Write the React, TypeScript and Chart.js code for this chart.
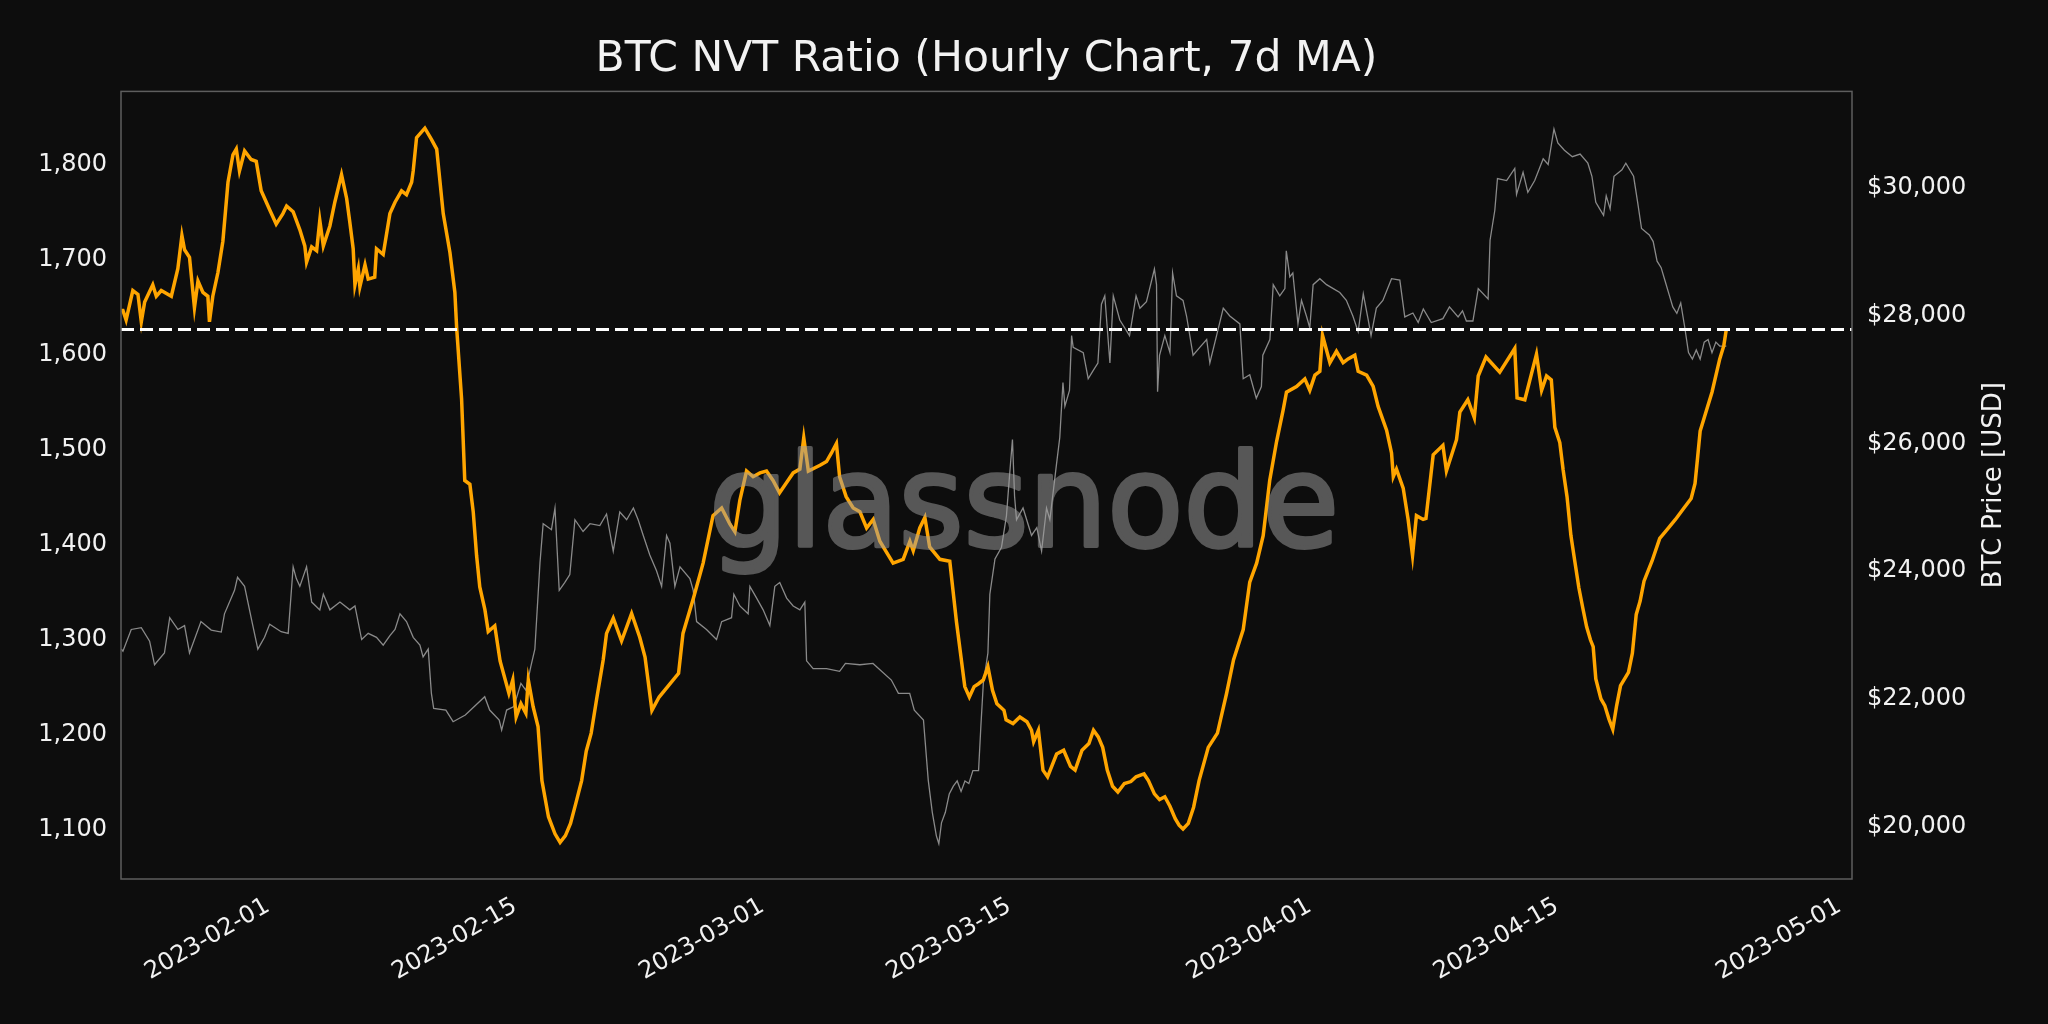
import React, { useEffect, useRef } from 'react';
import { Chart, registerables } from 'chart.js';

Chart.register(...registerables);

const TITLE = 'BTC NVT Ratio (Hourly Chart, 7d MA)';
const RIGHT_AXIS_TITLE = 'BTC Price [USD]';
const WATERMARK = 'glassnode';

// x values are days counted from 2023-02-01 00:00
const X_MIN = -8.66;
const X_MAX = 89.38;
const NVT_MIN = 1048.4;
const NVT_MAX = 1877.7;
const PRICE_MIN = 19181;
const PRICE_MAX = 31513;
const NVT_REFERENCE = 1627;

const xTickDays = [0, 14, 28, 42, 59, 73, 89];
const xTickLabels = ['2023-02-01', '2023-02-15', '2023-03-01', '2023-03-15', '2023-04-01', '2023-04-15', '2023-05-01'];
const nvtTicks = [1100, 1200, 1300, 1400, 1500, 1600, 1700, 1800];
const priceTicks = [20000, 22000, 24000, 26000, 28000, 30000];

const nvtDays = [
  -8.64, -8.55, -8.37, -7.99, -7.70, -7.51, -7.32, -6.86, -6.66, -6.38,
  -5.81, -5.44, -5.21, -5.06, -4.78, -4.50, -4.30, -4.02, -3.74, -3.65,
  -3.46, -3.17, -2.89, -2.60, -2.32, -2.13, -1.95, -1.66, -1.29, -1.00,
  -0.72, -0.24, 0.13, 0.51, 0.72, 1.09, 1.47, 1.75, 1.85, 2.14,
  2.42, 2.60, 2.80, 3.17, 3.45, 3.83, 4.12, 4.30, 4.49, 4.59,
  4.78, 4.87, 5.16, 5.34, 5.71, 5.81, 6.19, 6.57, 6.86, 7.23,
  7.51, 7.80, 7.89, 8.08, 8.55, 8.93, 9.22, 9.59, 9.97, 10.25,
  10.35, 10.63, 10.81, 11.10, 11.29, 11.48, 11.66, 11.95, 12.14, 12.51,
  12.81, 13.31, 13.53, 13.72, 13.99, 14.27, 14.41, 14.68, 14.96, 15.18,
  15.55, 15.92, 16.21, 16.51, 16.80, 17.10, 17.43, 17.69, 17.97, 18.28,
  18.65, 18.84, 19.22, 19.69, 20.26, 20.72, 21.02, 21.41, 21.82, 22.35,
  22.92, 23.17, 23.76, 24.31, 24.87, 25.36, 25.83, 26.11, 26.39, 26.77,
  27.14, 27.53, 27.90, 28.27, 28.64, 29.01, 29.41, 29.79, 30.01, 30.27,
  30.93, 31.30, 31.58, 31.86, 32.04, 32.41, 32.81, 33.19, 33.57, 33.94,
  34.32, 35.07, 35.64, 36.02, 36.21, 36.58, 36.87, 37.14, 37.72, 38.28,
  38.66, 39.13, 39.39, 39.66, 39.91, 40.18, 40.44, 40.70, 40.95, 41.35,
  41.47, 41.86, 42.25, 42.65, 42.91, 43.03, 43.30, 43.56, 43.82, 44.33,
  44.73, 45.12, 45.38, 45.77, 46.16, 46.42, 46.69, 46.94, 47.20, 47.50,
  47.80, 48.17, 48.54, 48.83, 49.28, 49.53, 49.87, 50.16, 50.46, 50.75,
  51.05, 51.27, 51.49, 51.79, 52.09, 52.40, 52.92, 53.44, 53.70, 53.96,
  54.35, 54.90, 55.27, 55.66, 56.03, 56.40, 56.79, 57.16, 57.35, 57.92,
  58.39, 58.67, 58.96, 59.24, 59.39, 59.81, 60.18, 60.56, 60.84, 61.22,
  61.41, 61.89, 62.26, 62.54, 63.02, 63.30, 63.40, 63.58, 63.96, 64.24,
  64.49, 64.71, 65.09, 65.25, 65.66, 66.21, 66.41, 66.98, 67.17, 67.62,
  67.99, 68.21, 68.65, 69.43, 70.28, 70.41, 70.85, 71.51, 71.80, 72.08,
  72.35, 72.55, 72.83, 73.02, 73.24, 73.46, 73.68, 73.91, 74.13, 74.35,
  74.57, 74.72, 74.87, 75.16, 75.38, 75.61, 75.83, 76.05, 76.27, 76.72,
  76.94, 77.16, 77.38, 77.60, 78.05, 78.49, 78.94, 79.38, 79.82, 80.27,
  80.49, 80.64, 80.78, 81.01, 81.45, 81.89, 82.12, 82.26,
];

const nvtValues = [
  1647, 1647, 1637, 1668, 1664, 1635, 1656, 1674, 1662, 1668,
  1662, 1691, 1726, 1711, 1703, 1650, 1678, 1666, 1662, 1635,
  1662, 1687, 1720, 1782, 1811, 1817, 1794, 1815, 1806, 1804,
  1773, 1753, 1738, 1749, 1757, 1751, 1732, 1715, 1698, 1714,
  1710, 1742, 1715, 1736, 1761, 1790, 1765, 1740, 1712, 1674,
  1691, 1672, 1695, 1680, 1682, 1712, 1706, 1749, 1761, 1773,
  1769, 1782, 1794, 1829, 1839, 1827, 1817, 1749, 1708, 1666,
  1629, 1554, 1468, 1464, 1435, 1389, 1356, 1332, 1309, 1315,
  1278, 1244, 1258, 1219, 1233, 1223, 1258, 1230, 1209, 1152,
  1114, 1096, 1087, 1094, 1107, 1128, 1152, 1183, 1202, 1238,
  1279, 1307, 1323, 1299, 1328, 1303, 1282, 1226, 1240, 1252,
  1265, 1307, 1344, 1381, 1431, 1439, 1422, 1414, 1447, 1478,
  1472, 1476, 1478, 1468, 1455, 1465, 1476, 1480, 1513, 1478,
  1484, 1488, 1497, 1507, 1472, 1451, 1439, 1435, 1418, 1427,
  1404, 1381, 1385, 1404, 1394, 1418, 1429, 1398, 1385, 1383,
  1319, 1251, 1240, 1251, 1254, 1258, 1272, 1247, 1233, 1226,
  1216, 1212, 1219, 1214, 1205, 1193, 1205, 1163, 1156, 1180,
  1184, 1167, 1163, 1184, 1191, 1205, 1198, 1187, 1163, 1146,
  1140, 1149, 1151, 1156, 1159, 1152, 1138, 1132, 1135, 1125,
  1112, 1105, 1101, 1107, 1124, 1152, 1187, 1202, 1223, 1244,
  1279, 1311, 1361, 1381, 1410, 1468, 1509, 1542, 1561, 1567,
  1575, 1563, 1579, 1583, 1621, 1592, 1604, 1592, 1596, 1600,
  1583, 1579, 1567, 1546, 1521, 1497, 1472, 1480, 1460, 1427,
  1389, 1431, 1427, 1428, 1495, 1505, 1478, 1511, 1540, 1553,
  1534, 1578, 1598, 1582, 1607, 1555, 1553, 1601, 1563, 1578,
  1574, 1524, 1508, 1479, 1451, 1410, 1383, 1355, 1334, 1314,
  1300, 1293, 1259, 1238, 1231, 1217, 1206, 1231, 1252, 1266,
  1286, 1327, 1341, 1362, 1383, 1407, 1417, 1427, 1438, 1449,
  1465, 1493, 1520, 1534, 1561, 1596, 1610, 1627,
];

const priceDays = [
  -8.64, -8.55, -8.08, -7.51, -7.04, -6.76, -6.20, -5.90, -5.44, -5.06,
  -4.78, -4.13, -3.55, -2.98, -2.80, -2.23, -2.06, -1.66, -1.29, -0.91,
  -0.53, -0.24, 0.41, 0.81, 1.09, 1.27, 1.47, 1.85, 2.14, 2.60,
  2.80, 3.17, 3.74, 4.30, 4.59, 4.97, 5.34, 5.81, 6.19, 6.57,
  6.86, 7.14, 7.51, 7.89, 8.27, 8.45, 8.74, 8.92, 9.05, 9.74,
  10.15, 10.84, 11.94, 12.22, 12.76, 12.90, 13.18, 13.59, 13.99, 14.27,
  14.55, 14.78, 15.07, 15.25, 15.72, 15.92, 16.16, 16.48, 16.76, 17.05,
  17.51, 17.90, 18.46, 18.84, 19.22, 19.59, 19.98, 20.36, 20.63, 20.92,
  21.29, 21.67, 21.96, 22.24, 22.43, 22.71, 23.00, 23.56, 23.75, 23.94,
  24.50, 25.07, 25.36, 25.92, 26.05, 26.39, 26.86, 26.96, 27.34, 27.71,
  28.09, 28.37, 28.65, 29.04, 29.41, 29.79, 30.07, 30.17, 30.54, 31.30,
  32.04, 32.37, 33.19, 33.93, 34.97, 35.37, 36.01, 36.27, 36.79, 37.06,
  37.29, 37.52, 37.66, 37.81, 38.03, 38.25, 38.48, 38.70, 38.92, 39.14,
  39.36, 39.59, 39.91, 40.04, 40.18, 40.44, 40.55, 40.84, 41.21, 41.49,
  41.66, 41.83, 41.95, 42.06, 42.43, 42.91, 43.21, 43.48, 43.76, 43.95,
  44.32, 44.51, 44.69, 44.80, 45.06, 45.18, 45.27, 45.84, 46.12, 46.39,
  46.67, 46.87, 47.06, 47.35, 47.54, 47.91, 48.46, 48.83, 49.05, 49.42,
  49.87, 49.99, 50.05, 50.16, 50.46, 50.75, 50.90, 51.12, 51.49, 51.69,
  52.06, 52.44, 52.83, 53.01, 53.39, 53.77, 54.14, 54.71, 54.90, 55.27,
  55.64, 55.93, 56.01, 56.41, 56.60, 56.97, 57.26, 57.34, 57.54, 57.71,
  58.00, 58.20, 58.48, 58.67, 58.86, 59.24, 59.62, 60.00, 60.37, 60.74,
  61.11, 61.41, 61.70, 61.98, 62.14, 62.44, 62.81, 63.30, 63.77, 64.05,
  64.51, 64.81, 65.10, 65.55, 66.21, 66.58, 67.07, 67.32, 67.54, 67.91,
  68.21, 68.77, 68.88, 69.15, 69.30, 69.82, 70.28, 70.38, 70.75, 71.02,
  71.41, 71.89, 72.17, 72.50, 72.72, 73.09, 73.54, 73.98, 74.42, 74.65,
  74.87, 75.09, 75.31, 75.46, 75.68, 75.90, 76.35, 76.57, 76.79, 77.01,
  77.24, 77.46, 77.90, 78.12, 78.34, 78.57, 78.79, 79.01, 79.23, 79.46,
  79.68, 79.90, 80.12, 80.34, 80.56, 80.78, 81.01, 81.23, 81.45, 81.67,
  81.89, 82.26,
];

const priceValues = [
  22781, 22748, 23088, 23117, 22904, 22536, 22720, 23272, 23088, 23149,
  22720, 23211, 23078, 23047, 23333, 23701, 23906, 23763, 23272, 22781,
  22965, 23170, 23053, 23027, 24069, 23885, 23763, 24069, 23517, 23395,
  23640, 23395, 23517, 23395, 23456, 22930, 23027, 22965, 22842, 22992,
  23088, 23333, 23211, 22965, 22842, 22658, 22781, 22086, 21853, 21826,
  21644, 21748, 22035, 21826, 21671, 21513, 21826, 21881, 22243, 22139,
  22505, 22781, 24131, 24744, 24650, 24990, 23701, 23824, 23947, 24806,
  24622, 24744, 24714, 24896, 24315, 24928, 24806, 24990, 24806, 24560,
  24253, 24008, 23763, 24560, 24438, 23763, 24069, 23885, 23701, 23211,
  23088, 22930, 23211, 23272, 23640, 23456, 23333, 23763, 23579, 23395,
  23149, 23763, 23824, 23579, 23456, 23395, 23517, 22597, 22474, 22474,
  22433, 22556, 22536, 22556, 22296, 22088, 22088, 21826, 21671, 20730,
  20225, 19857, 19734, 20061, 20225, 20511, 20634, 20716, 20552, 20716,
  20675, 20879, 20879, 21566, 22243, 22720, 23640, 24192, 24376, 24867,
  25481, 26063, 25174, 24806, 24990, 24560, 24683, 24315, 24990, 24806,
  25665, 26094, 26953, 26585, 26830, 27689, 27505, 27423, 27014, 27137,
  27260, 28180, 28313, 27260, 28313, 27934, 27689, 28313, 28119, 28221,
  28732, 28487, 26810, 27382, 27689, 27423, 28671, 28313, 28241, 27996,
  27382, 27505, 27628, 27260, 27689, 28119, 27996, 27873, 27014, 27076,
  26708, 26892, 27382, 27628, 28487, 28313, 28425, 29018, 28609, 28671,
  27873, 28241, 27996, 27812, 28487, 28581, 28487, 28425, 28364, 28241,
  27996, 27750, 28343, 27934, 27689, 28119, 28241, 28581, 28558, 27982,
  28043, 27894, 28106, 27894, 27955, 28139, 27982, 28078, 27918, 27918,
  28425, 28262, 29182, 29652, 30149, 30117, 30307, 29900, 30245, 29933,
  30117, 30458, 30368, 30924, 30705, 30593, 30491, 30532, 30389, 30184,
  29775, 29673, 29571, 29877, 29673, 30184, 30286, 30389, 30286, 30184,
  29775, 29366, 29264, 29162, 28855, 28753, 28548, 28343, 28139, 28037,
  28200, 27832, 27423, 27321, 27464, 27321, 27587, 27628, 27423, 27587,
  27526, 27526,
];

const BG = '#0d0d0d';
const FONT = "'DejaVu Sans', 'Liberation Sans', sans-serif";
const TEXT_COLOR = '#f2f2f2';
const ORANGE = '#ffa500';
const GRAY = '#8a8a8a';

const withCommas = (v: number) => String(Math.round(v)).replace(/\B(?=(\d{3})+(?!\d))/g, ',');

export default function App() {
  const ref = useRef<HTMLCanvasElement | null>(null);

  useEffect(() => {
    const canvas = ref.current;
    if (!canvas) return;

    const toPoints = (xs: number[], ys: number[]) => xs.map((x, i) => ({ x, y: ys[i] }));

    const decor = {
      id: 'decor',
      beforeDraw(chart: any) {
        const { ctx, width, height } = chart;
        ctx.save();
        ctx.fillStyle = BG;
        ctx.fillRect(0, 0, width, height);
        ctx.restore();
      },
      afterDatasetsDraw(chart: any) {
        const { ctx, width, height } = chart;
        // watermark rendered opaque off-screen, then composited with transparency
        const off = document.createElement('canvas');
        off.width = width;
        off.height = height;
        const o = off.getContext('2d');
        if (!o) return;
        o.font = `128px ${FONT}`;
        const w = o.measureText(WATERMARK).width;
        o.translate(width / 2, height / 2 + 34);
        o.scale(630 / w, 1);
        o.textAlign = 'center';
        o.textBaseline = 'alphabetic';
        o.fillStyle = '#a0a0a0';
        o.strokeStyle = '#a0a0a0';
        o.lineWidth = 4;
        o.lineJoin = 'round';
        o.fillText(WATERMARK, 0, 0);
        o.strokeText(WATERMARK, 0, 0);
        ctx.save();
        ctx.globalAlpha = 0.5;
        ctx.drawImage(off, 0, 0);
        ctx.restore();
      },
      afterDraw(chart: any) {
        const { ctx, chartArea } = chart;
        const { left, right, top, bottom } = chartArea;
        ctx.save();
        ctx.strokeStyle = '#5e5e5e';
        ctx.lineWidth = 1.5;
        ctx.strokeRect(left, top, right - left, bottom - top);

        ctx.fillStyle = TEXT_COLOR;
        ctx.font = `42.5px ${FONT}`;
        ctx.textAlign = 'center';
        ctx.textBaseline = 'alphabetic';
        ctx.fillText(TITLE, (left + right) / 2, 71);

        ctx.font = `26px ${FONT}`;
        ctx.translate(right + 142, (top + bottom) / 2);
        ctx.rotate(-Math.PI / 2);
        ctx.textBaseline = 'middle';
        ctx.fillText(RIGHT_AXIS_TITLE, 0, 0);
        ctx.restore();
      },
    };

    const tickFont = { family: FONT, size: 24 };

    const chart = new Chart(canvas, {
      type: 'line',
      data: {
        datasets: [
          {
            label: 'reference',
            data: [{ x: X_MIN, y: NVT_REFERENCE }, { x: X_MAX, y: NVT_REFERENCE }],
            borderColor: '#ffffff',
            borderWidth: 3.2,
            borderDash: [13, 6],
            pointRadius: 0,
            yAxisID: 'y',
          },
          {
            label: 'NVT Ratio',
            data: toPoints(nvtDays, nvtValues),
            borderColor: ORANGE,
            borderWidth: 3.5,
            pointRadius: 0,
            tension: 0,
            yAxisID: 'y',
          },
          {
            label: 'BTC Price',
            data: toPoints(priceDays, priceValues),
            borderColor: GRAY,
            borderWidth: 1.3,
            pointRadius: 0,
            tension: 0,
            yAxisID: 'y2',
          },
        ],
      },
      options: {
        responsive: false,
        animation: false,
        devicePixelRatio: 1,
        layout: { padding: { top: 91.4, left: 0, right: 0, bottom: 0 } },
        plugins: { legend: { display: false }, tooltip: { enabled: false }, title: { display: false } },
        scales: {
          x: {
            type: 'linear',
            position: 'bottom',
            min: X_MIN,
            max: X_MAX,
            afterBuildTicks: (s: any) => { s.ticks = xTickDays.map((v) => ({ value: v })); },
            afterFit: (s: any) => { s.height = 145; },
            grid: { display: false, drawTicks: false },
            border: { display: false },
            ticks: {
              autoSkip: false,
              maxRotation: 30,
              minRotation: 30,
              padding: 13,
              labelOffset: -6,
              color: TEXT_COLOR,
              font: tickFont,
              callback: (_v: any, i: number) => xTickLabels[i],
            },
          },
          y: {
            type: 'linear',
            position: 'left',
            min: NVT_MIN,
            max: NVT_MAX,
            afterBuildTicks: (s: any) => { s.ticks = nvtTicks.map((v) => ({ value: v })); },
            afterFit: (s: any) => { s.width = 121; },
            grid: { display: false, drawTicks: false },
            border: { display: false },
            ticks: {
              padding: 14,
              color: TEXT_COLOR,
              font: tickFont,
              callback: (v: any) => withCommas(Number(v)),
            },
          },
          y2: {
            type: 'linear',
            position: 'right',
            min: PRICE_MIN,
            max: PRICE_MAX,
            afterBuildTicks: (s: any) => { s.ticks = priceTicks.map((v) => ({ value: v })); },
            afterFit: (s: any) => { s.width = 196; },
            grid: { display: false, drawTicks: false },
            border: { display: false },
            ticks: {
              padding: 15,
              color: TEXT_COLOR,
              font: tickFont,
              callback: (v: any) => '$' + withCommas(Number(v)),
            },
          },
        },
      },
      plugins: [decor],
    } as any);

    return () => chart.destroy();
  }, []);

  return (
    <div style={{ position: 'fixed', left: 0, top: 0, width: 2048, height: 1024, background: BG }}>
      <canvas ref={ref} width={2048} height={1024} style={{ width: 2048, height: 1024, display: 'block' }} />
    </div>
  );
}
